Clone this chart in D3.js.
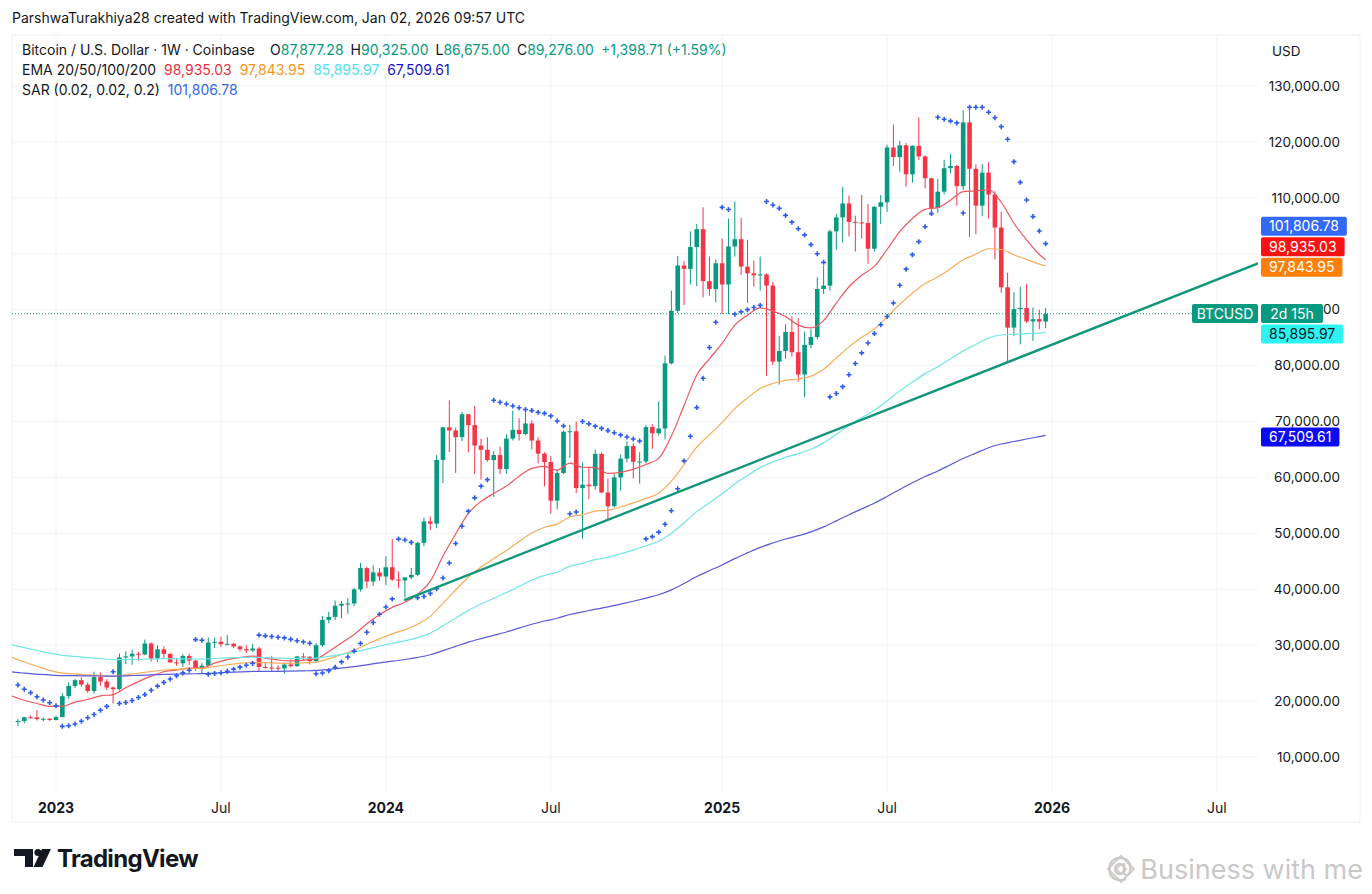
<!DOCTYPE html>
<html>
<head>
<meta charset="utf-8">
<script src="https://cdn.jsdelivr.net/npm/d3@7"></script>
<style>
  html, body { margin: 0; padding: 0; background: #fff; }
  svg { display: block; font-family: Inter, "Noto Sans", Roboto, sans-serif; }
</style>
</head>
<body>
<svg id="chart" width="1372" height="894"></svg>
<script>
"use strict";

// weekly candles, Coinbase BTCUSD, first bar = week of 2022-11-21
var firstWeek = "2022-11-21";
var opens = [
  16280,16430,17100,17090,16780,16840,16620,17130,20880,22710,
  23740,22940,21790,24300,23500,22430,22130,27800,27990,28470,
  28330,30300,27600,29250,28430,26920,26750,28080,27230,25850,
  26340,30470,30600,30170,30250,29780,29280,29050,29400,26100,
  26000,25960,25840,26530,26250,27980,27940,27150,29990,34530,
  35050,37060,37380,37450,39980,43790,41380,43010,42280,43930,
  41730,41570,42120,42580,48300,52130,51730,63140,68960,68400,
  67200,71300,69360,65700,64940,63100,64000,61500,66940,68500,
  67760,69650,66600,64250,62750,55850,60800,68160,68250,58100,
  58700,58450,64200,57300,54850,60000,63350,65600,62800,62850,
  69000,67900,68750,80400,89800,97900,97300,101200,104400,95100,
  93700,98300,94500,101300,102600,97700,96500,96150,96300,94300,
  80700,82600,86000,82400,78400,83700,85100,93700,94300,104000,
  106500,109000,105700,105600,105500,100900,108400,109200,119000,117300,
  119400,114200,119300,117400,113500,108200,111100,115300,115700,112100,
  123500,115200,108600,114500,110600,104700,94000,86800,90100,90300,
  87900,88300,87877.28
];
var highs = [
  16770,17200,17420,18390,17050,16940,17400,21440,23370,23960,
  24240,23340,25250,25130,23900,22600,28500,28900,29200,28800,
  31000,30500,30000,29800,28650,27700,28400,28450,27400,26800,
  31400,31300,31500,31800,30400,29900,30000,30200,29700,26800,
  28100,26400,26900,27450,28050,28580,28000,30400,35200,35980,
  37980,37900,38400,40250,44700,44000,44300,43800,45900,48970,
  43200,42200,43800,48500,52800,52985,64000,69000,73800,68900,
  71700,71300,72800,66900,67200,64700,65500,67700,71950,70600,
  71950,70200,67200,64500,63800,61400,68400,69400,70000,62700,
  61800,65000,64500,59800,60600,64100,66500,66100,64500,69400,
  69500,73600,81800,93400,99600,98700,104000,105300,108300,99500,
  99000,102700,106300,109350,106400,102500,98800,99500,96500,95000,
  85300,87400,88800,88500,86100,86500,95800,97900,104300,107100,
  111900,110400,106800,110500,108900,108500,110500,119500,123100,120200,
  119800,119400,124400,117600,113600,113400,116800,117900,115900,125700,
  126200,116000,116100,116400,111200,107500,96600,93100,94100,94600,
  90400,90000,90325
];
var lows = [
  15480,16000,16870,16530,16400,16460,16540,17100,20400,22300,
  22550,21450,21350,22750,21970,19560,21900,26600,26500,27200,
  28200,27100,27000,27700,26800,26350,26100,26500,25400,24800,
  26250,29500,29700,29950,29500,28850,28600,28750,25300,25800,
  25400,25370,24900,26000,26100,27200,26550,26900,29700,33900,
  34500,34800,35600,37000,39600,40200,40600,41500,40750,41500,
  40200,38500,41800,42300,47700,50600,50900,59000,64500,60800,
  66500,64500,60600,59600,62800,56500,60600,60700,66600,66600,
  67600,65000,62500,58400,53500,54300,60600,63500,57200,49000,
  56100,57800,57200,52550,54600,57600,62700,59800,58900,62500,
  65100,67500,66800,80200,89400,90800,94500,94200,92200,92500,
  91300,89200,89200,99500,96200,91200,94100,93400,78200,80100,
  76600,81200,81600,77100,74400,83100,84700,92800,93400,100700,
  102000,103100,100400,102700,98200,100400,105300,107500,115700,114700,
  112000,112700,116800,111700,107300,107300,110600,114400,108600,111400,
  103000,103500,106700,106300,99000,93000,80600,85300,83800,87600,
  84400,86500,86675
];
var closes = [
  16430,17100,17090,16780,16840,16620,17130,20880,22710,23740,
  22940,21790,24300,23500,22430,22130,27800,27990,28470,28330,
  30300,27600,29250,28430,26920,26750,28080,27230,25850,26340,
  30470,30600,30170,30250,29780,29280,29050,29400,26100,26000,
  25960,25840,26530,26250,27980,27940,27150,29990,34530,35050,
  37060,37380,37450,39980,43790,41380,43010,42280,43930,41730,
  41570,42120,42580,48300,52130,51730,63140,68960,68400,67200,
  71300,69360,65700,64940,63100,64000,61500,66940,68500,67760,
  69650,66600,64250,62750,55850,60800,68160,68250,58100,58700,
  58450,64200,57300,54850,60000,63350,65600,62800,62850,69000,
  67900,68750,80400,89800,97900,97300,101200,104400,95100,93700,
  98300,94500,101300,102600,97700,96500,96150,96300,94300,80700,
  82600,86000,82400,78400,83700,85100,93700,94300,104000,106500,
  109000,105700,105600,105500,100900,108400,109200,119000,117300,119400,
  114200,119300,117400,113500,108200,111100,115300,115700,112100,123500,
  115200,108600,114500,110600,104700,94000,86800,90100,90300,87900,
  88300,87877.28,89276
];
var lastChange = "+1,398.71 (+1.59%)";

// parabolic SAR (0.02, 0.02, 0.2), one dot per week
var sarValues = [
  22880,22110,21500,20780,20190,19710,19170,15480,15600,15910,
  16390,17020,17600,18360,19050,25250,19560,19740,20100,20650,
  21160,21950,22680,23340,23950,24520,25040,25510,31000,30890,
  24800,24930,25060,25320,25710,26070,26420,26740,31800,31670,
  31540,31420,31300,31040,30790,30560,30330,24900,25010,25420,
  26050,27010,27880,28940,30290,32310,34050,35540,36820,38270,
  48970,48800,48380,38500,38700,39260,40090,42000,44700,48190,
  51270,53970,56350,58440,59600,73800,73450,73120,72780,72460,
  72140,71950,71640,71460,71000,70100,69200,53500,53820,70000,
  69580,69170,68770,68370,67980,67600,67230,66870,66510,49000,
  49410,50210,51620,54030,57970,62960,67360,72490,77740,83240,
  87750,108300,107920,89200,89600,90000,90390,90760,109350,108730,
  108120,106860,105650,104480,103370,101630,100000,98460,74400,75000,
  76230,78370,80380,82270,84050,85720,87290,88770,91190,94380,
  97250,99840,102160,104830,107180,124400,124060,123720,123400,107300,
  126200,126200,126200,125300,124330,122730,120470,116470,112770,109620,
  106640,104070,101806.78
];

// EMA lines read every second week (week -1, 1, 3 ... 161, then the last bar)
var emaWeeks = d3.range(-1, 162, 2).concat([162]);
var ema20 = [
  20900,20150,19570,19050,19060,19820,20280,20930,21170,22390,
  23480,24460,25250,25540,25920,25950,26780,27410,27790,28050,
  27690,27360,27190,27330,27560,28880,30390,31910,33840,35430,
  36760,37690,39120,41440,45930,49890,53590,55710,57140,58450,
  60200,61620,61960,61320,62570,61820,61750,60710,60900,61490,
  62320,63410,67390,72860,78310,81220,83960,87230,89010,90320,
  89750,88770,87240,86730,88050,91180,94100,96170,97750,100760,
  103960,106300,107940,108260,109580,111120,111230,111450,109210,105460,
  102480,99870,98935.03
];
var ema50 = [
  27850,27000,26220,25490,25000,24860,24670,24610,24430,24700,
  24980,25290,25560,25660,25810,25830,26190,26500,26740,26930,
  26860,26790,26750,26850,26980,27580,28320,29130,30160,31120,
  32020,32770,33750,35150,37530,39860,42200,43980,45480,46930,
  48560,50060,51090,51650,52930,53350,53970,54130,54710,55440,
  56250,57180,59330,62280,65400,67620,69830,72310,74210,75910,
  76790,77370,77600,78120,79340,81340,83340,85050,86560,88680,
  90970,92950,94680,95830,97350,98930,99920,100890,100760,99820,
  98990,98150,97843.95
];
var ema100 = [
  30070,29550,29050,28570,28190,27990,27770,27620,27410,27430,
  27470,27530,27580,27550,27550,27500,27620,27720,27790,27840,
  27770,27700,27650,27660,27700,27980,28340,28750,29290,29810,
  30320,30770,31350,32160,33490,34830,36220,37360,38390,39410,
  40530,41610,42470,43090,44080,44640,45290,45710,46340,47040,
  47780,48590,50020,51890,53880,55470,57080,58840,60340,61750,
  62750,63590,64250,65040,66180,67710,69270,70690,72020,73680,
  75430,77050,78560,79780,81190,82630,83780,84910,85470,85590,
  85730,85820,85895.97
];
var ema200 = [
  25240,24990,24830,24670,24560,24540,24500,24490,24450,24520,
  24600,24690,24770,24820,24880,24900,25020,25120,25220,25300,
  25320,25330,25360,25410,25480,25670,25900,26160,26490,26820,
  27140,27440,27810,28290,29020,29780,30540,31170,31760,32360,
  33050,33740,34320,34810,35480,35940,36430,36840,37330,37860,
  38420,39010,39890,41040,42270,43310,44350,45480,46500,47480,
  48270,48980,49580,50270,51150,52230,53330,54370,55390,56590,
  57850,59040,60170,61160,62260,63370,64340,65300,65970,66420,
  66870,67290,67509.61
];
var emaNames = ["EMA 20", "EMA 50", "EMA 100", "EMA 200"];

// hand-drawn trendline: two anchors (week, price), extended to the right
var trendWeeks = ["2024-01-22", "2025-11-17"];
var trendPrices = [38100, 80600];

var priceTicks = [10000, 20000, 30000, 40000, 50000, 60000, 70000,
  80000, 90000, 100000, 110000, 120000, 130000];
var timeTickWeeks = ["2023-01-02", "2023-07-03", "2024-01-01", "2024-07-01",
  "2025-01-06", "2025-07-07", "2026-01-05", "2026-07-06"];
var timeTickLabels = ["2023", "Jul", "2024", "Jul", "2025", "Jul", "2026", "Jul"];

//begin: layout conf.
var svgWidth = 1372, svgHeight = 894;
var plot = { left: 12, right: 1258, top: 35, bottom: 792 };
var panel = { left: 12, right: 1360, top: 35, bottom: 822 };
var axisX = 1261, tickRight = 1340;
var upColor = "#089981", downColor = "#f23645", textColor = "#131722";
var lineColors = ["#ea5860", "#f6ad5a", "#72e6e4", "#5a5ad6"];
var legendColors = ["#e8313f", "#f7941d", "#4fdfee", "#1717c6"];
var boxColors = ["#fb1111", "#fd7f08", "#2ef3f3", "#0b0bf2"];
var sarColor = "#2f5de8", sarBoxColor = "#3469f5";
var fmt = d3.format(",.2f");
//end: layout conf.

var parseDay = d3.utcParse("%Y-%m-%d");
var week0 = parseDay(firstWeek);
function weekDate(i) { return d3.utcDay.offset(week0, 7 * i); }

var x = d3.scaleUtc()
  .domain([parseDay("2023-01-02"), parseDay("2026-01-05")])
  .range([56, 1052]);
var y = d3.scaleLinear().domain([10000, 130000]).range([757, 86]);

var candles = opens.map(function (o, i) {
  return { date: weekDate(i), o: o, h: highs[i], l: lows[i], c: closes[i] };
});
var last = candles[candles.length - 1];
var emaLast = [ema20, ema50, ema100, ema200].map(function (a) { return a[a.length - 1]; });

// price axis boxes, stacked so they never overlap
var boxH = 19, boxGap = 20.5;
var boxes = [
  { v: sarValues[sarValues.length - 1], fill: sarBoxColor, text: "#fff" },
  { v: emaLast[0], fill: boxColors[0], text: "#fff" },
  { v: emaLast[1], fill: boxColors[1], text: "#fff" },
  { v: last.c, fill: upColor, text: "#fff", label: "2d 15h", width: 62 },
  { v: emaLast[2], fill: boxColors[2], text: textColor },
  { v: emaLast[3], fill: boxColors[3], text: "#fff" }
];
boxes.forEach(function (b) { b.y = y(b.v) + 1.5; });
boxes.sort(function (a, b) { return b.y - a.y; });
for (var i = 1; i < boxes.length; i++) {
  boxes[i].y = Math.min(boxes[i].y, boxes[i - 1].y - boxGap);
}
// a tick label fully under a full-width box is not drawn
function hiddenTick(v) {
  return boxes.some(function (b) {
    return !b.label && Math.abs(y(v) - b.y) < boxH / 2 + 1.5;
  });
}

var svg = d3.select("#chart");
svg.append("rect").attr("width", svgWidth).attr("height", svgHeight).attr("fill", "#fff");

svg.append("defs").append("clipPath").attr("id", "plot-clip")
  .append("rect")
  .attr("x", plot.left).attr("y", plot.top)
  .attr("width", plot.right - plot.left).attr("height", plot.bottom - plot.top);

svg.append("text")
  .attr("x", 12).attr("y", 23)
  .attr("font-size", 14).attr("fill", textColor)
  .text("ParshwaTurakhiya28 created with TradingView.com, Jan 02, 2026 09:57 UTC");

svg.append("rect")
  .attr("x", panel.left).attr("y", panel.top)
  .attr("width", panel.right - panel.left).attr("height", panel.bottom - panel.top)
  .attr("fill", "none").attr("stroke", "#eef0f4");

// grid
var grid = svg.append("g").attr("clip-path", "url(#plot-clip)");
grid.selectAll(".hgrid").data(priceTicks).enter().append("line")
  .attr("x1", plot.left).attr("x2", plot.right)
  .attr("y1", function (d) { return y(d); }).attr("y2", function (d) { return y(d); })
  .attr("stroke", "#f2f3f6");
svg.append("g").selectAll(".vgrid").data(timeTickWeeks).enter().append("line")
  .attr("x1", function (d) { return x(parseDay(d)); })
  .attr("x2", function (d) { return x(parseDay(d)); })
  .attr("y1", plot.top).attr("y2", plot.bottom)
  .attr("stroke", "#f2f3f6");

// time axis
svg.append("g").selectAll("text").data(timeTickWeeks).enter().append("text")
  .attr("x", function (d) { return x(parseDay(d)); })
  .attr("y", 813)
  .attr("text-anchor", "middle")
  .attr("font-size", 14)
  .attr("font-weight", function (d, i) { return timeTickLabels[i] === "Jul" ? 400 : 700; })
  .attr("fill", textColor)
  .text(function (d, i) { return timeTickLabels[i]; });

// price axis
svg.append("g").selectAll("text")
  .data(priceTicks.filter(function (v) { return !hiddenTick(v); }))
  .enter().append("text")
  .attr("x", tickRight).attr("y", function (d) { return y(d); })
  .attr("dy", "0.35em")
  .attr("text-anchor", "end")
  .attr("font-size", 13.5)
  .attr("fill", textColor)
  .text(function (d) { return fmt(d); });

svg.append("text")
  .attr("x", 1272).attr("y", 56)
  .attr("font-size", 13.5).attr("fill", textColor)
  .text("USD");

var chart = svg.append("g").attr("clip-path", "url(#plot-clip)");

// candles
var bodyWidth = 4.6;
var candle = chart.append("g").selectAll("g").data(candles).enter().append("g")
  .attr("fill", function (d) { return d.c >= d.o ? upColor : downColor; })
  .attr("stroke", function (d) { return d.c >= d.o ? upColor : downColor; });
candle.append("line")
  .attr("x1", function (d) { return x(d.date); }).attr("x2", function (d) { return x(d.date); })
  .attr("y1", function (d) { return y(d.h); }).attr("y2", function (d) { return y(d.l); })
  .attr("stroke-width", 1);
candle.append("rect")
  .attr("stroke", "none")
  .attr("x", function (d) { return x(d.date) - bodyWidth / 2; })
  .attr("width", bodyWidth)
  .attr("y", function (d) { return y(Math.max(d.o, d.c)); })
  .attr("height", function (d) { return Math.max(1, Math.abs(y(d.o) - y(d.c))); });

// EMA lines
var emaLine = d3.line()
  .x(function (d) { return x(weekDate(d.week)); })
  .y(function (d) { return y(d.value); })
  .curve(d3.curveMonotoneX);
[ema20, ema50, ema100, ema200].forEach(function (values, k) {
  var pts = values.map(function (v, i) { return { week: emaWeeks[i], value: v }; });
  chart.append("path")
    .datum(pts)
    .attr("d", emaLine)
    .attr("fill", "none")
    .attr("stroke", lineColors[k])
    .attr("stroke-width", 1.2)
    .attr("class", emaNames[k].replace(" ", "").toLowerCase());
});

// SAR
chart.append("g").selectAll("path").data(sarValues).enter().append("path")
  .attr("transform", function (d, i) { return "translate(" + [x(weekDate(i)), y(d)] + ")"; })
  .attr("d", "M-2.5,0H2.5M0,-2.5V2.5")
  .attr("stroke", sarColor)
  .attr("stroke-width", 1.6);

// trendline
var tA = [x(parseDay(trendWeeks[0])), y(trendPrices[0])];
var tB = [x(parseDay(trendWeeks[1])), y(trendPrices[1])];
var slope = (tB[1] - tA[1]) / (tB[0] - tA[0]);
chart.append("line")
  .attr("x1", tA[0]).attr("y1", tA[1])
  .attr("x2", plot.right).attr("y2", tA[1] + slope * (plot.right - tA[0]))
  .attr("stroke", "#13977a")
  .attr("stroke-width", 2.4)
  .attr("stroke-linecap", "round");

// last price line
chart.append("line")
  .attr("x1", plot.left).attr("x2", plot.right)
  .attr("y1", y(last.c)).attr("y2", y(last.c))
  .attr("stroke", upColor).attr("stroke-width", 1)
  .attr("stroke-dasharray", "1,2");

// legend
function legendLine(yPos, parts) {
  var t = svg.append("text").attr("x", 22).attr("y", yPos).attr("font-size", 14);
  parts.forEach(function (p) {
    t.append("tspan").attr("dx", p[2] || 0).attr("fill", p[1]).text(p[0]);
  });
}
legendLine(55, [
  ["Bitcoin / U.S. Dollar · 1W · Coinbase", textColor],
  ["O", textColor, 15], [fmt(last.o), upColor],
  ["H", textColor, 7], [fmt(last.h), upColor],
  ["L", textColor, 7], [fmt(last.l), upColor],
  ["C", textColor, 7], [fmt(last.c), upColor],
  [lastChange, upColor, 7]
]);
legendLine(75, [["EMA 20/50/100/200", textColor]].concat(emaLast.map(function (v, k) {
  return [fmt(v), legendColors[k], 8];
})));
legendLine(95, [
  ["SAR (0.02, 0.02, 0.2)", textColor],
  [fmt(sarValues[sarValues.length - 1]), "#3567e6", 8]
]);

var boxG = svg.append("g");
boxes.forEach(function (b) {
  var g = boxG.append("g").attr("transform", "translate(" + [axisX, b.y] + ")");
  var rect = g.append("rect").attr("y", -boxH / 2).attr("height", boxH).attr("rx", 2).attr("fill", b.fill);
  var t = g.append("text").attr("dy", "0.36em").attr("font-size", 14)
    .attr("fill", b.text).text(b.label || fmt(b.v));
  var w = b.width || t.node().getComputedTextLength() + 16;
  rect.attr("width", w);
  t.attr("x", w / 2).attr("text-anchor", "middle");
  if (b.label) {
    var sym = boxG.append("g").attr("transform", "translate(" + [plot.right, b.y] + ")");
    sym.append("rect").attr("x", -66).attr("y", -boxH / 2).attr("width", 66).attr("height", boxH)
      .attr("rx", 2).attr("fill", b.fill);
    sym.append("text").attr("x", -33).attr("dy", "0.36em").attr("text-anchor", "middle")
      .attr("font-size", 14).attr("fill", "#fff").text("BTCUSD");
  }
});

// footer
var logo = svg.append("g").attr("fill", "#131722");
logo.append("path").attr("d", "M14,849H33V867H25V856H14Z");
logo.append("circle").attr("cx", 38).attr("cy", 852.5).attr("r", 3.6);
logo.append("path").attr("d", "M42,849H51L42.5,867H33.5Z");
logo.append("text")
  .attr("x", 57).attr("y", 867)
  .attr("font-size", 24).attr("font-weight", 700).attr("letter-spacing", -0.7)
  .text("TradingView");

var wm = svg.append("g").attr("fill", "none").attr("stroke", "#cfcfcf").attr("stroke-width", 2);
wm.append("path").attr("d", "M1121,856L1134,869L1121,882L1108,869Z");
wm.append("path").attr("d", "M1121,864L1126,869L1121,874L1116,869Z");
svg.append("text")
  .attr("x", 1363).attr("y", 879)
  .attr("text-anchor", "end")
  .attr("font-size", 27)
  .attr("fill", "#c9c9c9")
  .text("@ Business with me");
</script>
</body>
</html>
